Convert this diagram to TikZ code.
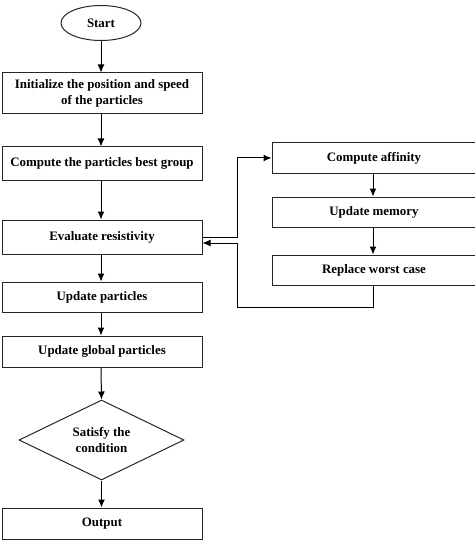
\documentclass[tikz,border=0pt]{standalone}
\usepackage{fontspec}
\setmainfont{Liberation Serif}
\usetikzlibrary{shapes.geometric,arrows.meta}
\begin{document}
\begin{tikzpicture}[x=1pt,y=-1pt,
  lbl/.style={font=\bfseries\fontsize{12.9}{15.5}\selectfont, align=center},
  box/.style={lbl, draw=black!85, line width=1pt, rectangle, inner sep=0pt},
  lbox/.style={box, minimum width=200pt},
  rbox/.style={box, minimum width=212pt, minimum height=30pt},
  arr/.style={-{Latex[length=8pt,width=7pt]}, line width=1pt, draw=black}]
\useasboundingbox (0,0) rectangle (474,540);
\node[lbl, ellipse, draw=black!85, line width=1pt, minimum width=80pt, minimum height=35pt, inner sep=0pt] (start) at (101,23) {Start};
\node[lbox, minimum height=41pt] (init) at (102,93.5) {Initialize the position and speed\\of the particles};
\node[lbox, minimum height=33pt] (best) at (102,163.5) {\raisebox{3pt}{Compute the particles best group}};
\node[lbox, minimum height=34pt] (eval) at (102,237) {Evaluate resistivity};
\node[lbox, minimum height=30pt] (upd) at (102,297) {Update particles};
\node[lbox, minimum height=31pt] (glob) at (102,351.5) {Update global particles};
\node[lbl, diamond, draw=black!85, line width=1pt, minimum width=165pt, minimum height=80pt, aspect=2.06, inner sep=0pt] (cond) at (101.5,440) {Satisfy the\\condition};
\node[lbox, minimum height=31pt] (out) at (102,523.5) {Output};
\node[rbox] (aff) at (378,158) {\hspace*{-8pt}Compute affinity};
\node[rbox] (mem) at (378,212) {\hspace*{-8pt}Update memory};
\node[rbox] (repl) at (378,270) {\hspace*{-8pt}Replace worst case};
\coordinate (back) at (237,307);
\draw[arr] (start.south) -- (start.south |- init.north);
\draw[arr] (init.south -| start.south) -- (start.south |- best.north);
\draw[arr] (best.south -| start.south) -- (start.south |- eval.north);
\draw[arr] (eval.south -| start.south) -- (start.south |- upd.north);
\draw[arr] (upd.south -| start.south) -- (start.south |- glob.north);
\draw[arr] (glob.south -| start.south) -- (cond.north);
\draw[arr] (cond.south) -- (cond.south |- out.north);
\draw[arr] ([xshift=-5pt]aff.south) -- ([xshift=-5pt]mem.north);
\draw[arr] ([xshift=-5pt]mem.south) -- ([xshift=-5pt]repl.north);
\draw[arr] (eval.east) -- ++(35,0) |- (aff.west);
\draw[arr] ([xshift=-5pt]repl.south) |- (back) |- ([yshift=-6pt]eval.east);
\end{tikzpicture}
\end{document}
